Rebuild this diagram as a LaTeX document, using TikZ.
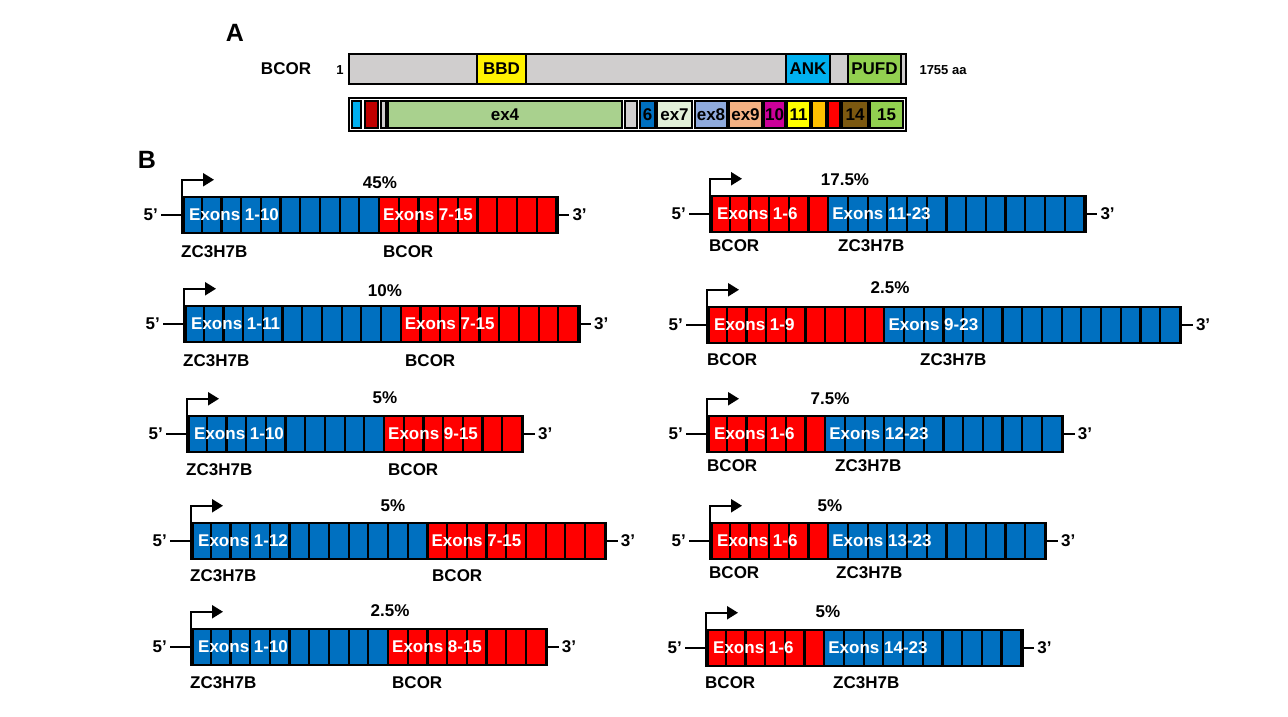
\documentclass[tikz,border=0pt]{standalone}
\usepackage{fontspec}
\setmainfont{Liberation Sans}
\usetikzlibrary{arrows.meta}
\definecolor{cblue}{HTML}{0070C0}
\definecolor{cred}{HTML}{FF0000}
\definecolor{lgray}{HTML}{D0CECE}
\tikzset{
 cell/.style={draw=black,line width=2.2pt},
 seg/.style={draw=black,line width=1.8pt},
 lab/.style={font=\bfseries\fontsize{17}{17}\selectfont,inner sep=0pt},
 wlab/.style={lab,text=white,anchor=west},
 blab/.style={lab,anchor=west},
}
\newcommand\fus[9]{%
 \pgfmathsetmacro\xj{#1+#3*19.7}%
 \pgfmathsetmacro\xe{#1+(#3+#5)*19.7}%
 \foreach \i in {1,...,#3}{\draw[cell,fill=#4] ({#1+(\i-1)*19.7},{#2-18}) rectangle ++(19.7,36);}
 \foreach \i in {1,...,#5}{\draw[cell,fill=#6] ({\xj+(\i-1)*19.7},{#2-18}) rectangle ++(19.7,36);}
 \node[draw=black,line width=2.5pt,inner sep=0pt,minimum height=36pt,minimum width={(#3+#5)*19.7pt},anchor=west] (#9) at (#1,#2) {};
 \node[wlab] at ({#1+7},#2) {#7};
 \node[wlab] at ({\xj+4},#2) {#8};
 \node[lab,anchor=east] (#9f) at ({#1-24},#2) {5’};
 \node[lab,anchor=west] (#9t) at ({\xe+16},#2) {3’};
 \draw[line width=2.5pt] (#9f.east) ++(3,0) -- (#9.west);
 \draw[line width=2.5pt] (#9.east) -- ([xshift=-3pt]#9t.west);
 \draw[line width=2.2pt,-{Triangle[length=11pt,width=13pt]}] (#9.north west) |- ++(32,-16);
}
\begin{document}
\begin{tikzpicture}[x=1pt,y=-1pt]
\useasboundingbox (0,0) rectangle (1288,717);
\node[font=\bfseries\fontsize{25}{25}\selectfont] (A) at (235,33) {A};
\node[font=\bfseries\fontsize{25}{25}\selectfont] (B) at (147,160) {B};
\node[lab] (bcor) at (286,69) {BCOR};
\node[font=\bfseries\fontsize{13}{13}\selectfont] (one) at (340,70) {1};
\node[font=\bfseries\fontsize{13}{13}\selectfont,anchor=west] (aa) at (916,70) {1755 aa};
% protein
\draw[seg,line width=2.5pt,fill=lgray] (349,54) rectangle (906,84);
\draw[seg,fill=yellow] (477,54) rectangle (526,84); \node[lab] (bbd) at (501.5,69) {BBD};
\definecolor{ankc}{RGB}{0,176,240}\definecolor{pufc}{RGB}{146,208,80}
\draw[seg,fill=ankc] (786,54) rectangle (830,84); \node[lab] (ank) at (808,69) {ANK};
\draw[seg,fill=pufc] (848,54) rectangle (901,84); \node[lab] (pufd) at (874.5,69) {PUFD};
% exons
\draw[seg,line width=2.5pt,fill=white] (349,98) rectangle (906,131);
\foreach \a/\b/\c/\t in {352/361/{0,176,240}/,365/378/{192,0,0}/,381/386/{208,206,206}/,388/622/{169,209,142}/ex4,625/637/{208,206,206}/,640/655/{0,112,192}/6,657/692/{226,240,217}/ex7,695/727/{143,170,220}/ex8,729/762/{244,177,131}/ex9,764/785/{204,0,153}/10,787/810/{255,255,0}/11,812/826/{255,192,0}/,828/840/{255,0,0}/,842/868/{124,88,16}/14,870/903/{146,208,80}/15}{
 \definecolor{tmpc}{RGB}{\c}
 \draw[seg,fill=tmpc] (\a,101) rectangle (\b,128);
 \node[lab] at ({(\a+\b)/2},114.5) {\t};
}
% left rows
\fus{182}{215}{10}{cblue}{9}{cred}{Exons 1-10}{Exons 7-15}{L1}
\fus{184}{324}{11}{cblue}{9}{cred}{Exons 1-11}{Exons 7-15}{L2}
\fus{187}{434}{10}{cblue}{7}{cred}{Exons 1-10}{Exons 9-15}{L3}
\fus{191}{541}{12}{cblue}{9}{cred}{Exons 1-12}{Exons 7-15}{L4}
\fus{191}{647}{10}{cblue}{8}{cred}{Exons 1-10}{Exons 8-15}{L5}
% right rows
\fus{710}{214}{6}{cred}{13}{cblue}{Exons 1-6}{Exons 11-23}{R1}
\fus{707}{325}{9}{cred}{15}{cblue}{Exons 1-9}{Exons 9-23}{R2}
\fus{707}{434}{6}{cred}{12}{cblue}{Exons 1-6}{Exons 12-23}{R3}
\fus{710}{541}{6}{cred}{11}{cblue}{Exons 1-6}{Exons 13-23}{R4}
\fus{706}{648}{6}{cred}{10}{cblue}{Exons 1-6}{Exons 14-23}{R5}
% percents
\node[lab] (p1) at (380,183) {45\%};
\node[lab] (p2) at (385,291) {10\%};
\node[lab] (p3) at (385,398) {5\%};
\node[lab] (p4) at (393,506) {5\%};
\node[lab] (p5) at (390,611) {2.5\%};
\node[lab] (q1) at (845,180) {17.5\%};
\node[lab] (q2) at (890,288) {2.5\%};
\node[lab] (q3) at (830,399) {7.5\%};
\node[lab] (q4) at (830,506) {5\%};
\node[lab] (q5) at (828,612) {5\%};
% gene labels
\node[blab] (l1a) at (181,252) {ZC3H7B}; \node[blab] (l1b) at (383,252) {BCOR};
\node[blab] (l2a) at (183,361) {ZC3H7B}; \node[blab] (l2b) at (405,361) {BCOR};
\node[blab] (l3a) at (186,470) {ZC3H7B}; \node[blab] (l3b) at (388,470) {BCOR};
\node[blab] (l4a) at (190,576) {ZC3H7B}; \node[blab] (l4b) at (432,576) {BCOR};
\node[blab] (l5a) at (190,683) {ZC3H7B}; \node[blab] (l5b) at (392,683) {BCOR};
\node[blab] (r1a) at (709,246) {BCOR}; \node[blab] (r1b) at (838,246) {ZC3H7B};
\node[blab] (r2a) at (707,360) {BCOR}; \node[blab] (r2b) at (920,360) {ZC3H7B};
\node[blab] (r3a) at (707,466) {BCOR}; \node[blab] (r3b) at (835,466) {ZC3H7B};
\node[blab] (r4a) at (709,573) {BCOR}; \node[blab] (r4b) at (836,573) {ZC3H7B};
\node[blab] (r5a) at (705,683) {BCOR}; \node[blab] (r5b) at (833,683) {ZC3H7B};
\end{tikzpicture}
\end{document}
